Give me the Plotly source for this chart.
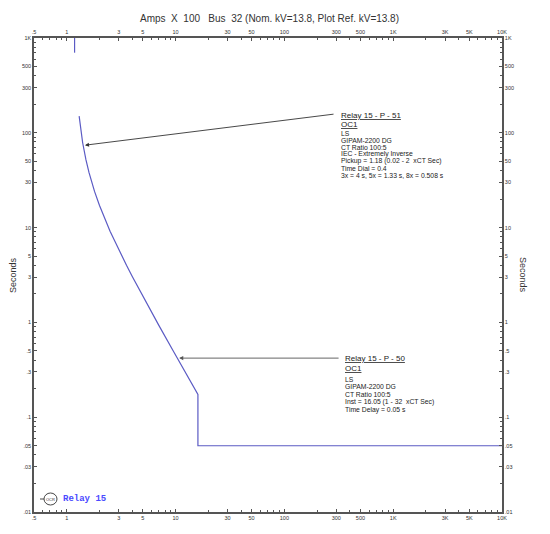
import math
import plotly.graph_objects as go

# Relay 15 curve (current in Amps x 100, time in seconds)
pickup_amps = [1.18, 1.18]
pickup_secs = [1000, 700]

curve_amps = [1.3, 1.35, 1.4, 1.5, 1.6, 1.8, 2.0, 2.5, 3.0, 3.54, 4.0, 5.0, 5.9,
              7.0, 9.44, 10.0, 12.0, 14.0, 16.05, 16.05, 10000]
curve_secs = [149.7, 103.6, 78.5, 52.0, 38.2, 24.1, 17.1, 9.17, 5.86, 4.0, 3.05,
              1.89, 1.333, 0.936, 0.508, 0.452, 0.312, 0.229, 0.174, 0.05, 0.05]

x_tickvals = [0.5, 1, 3, 5, 10, 30, 50, 100, 300, 500, 1000, 3000, 5000, 10000]
x_ticktext = ['.5', '1', '3', '5', '10', '30', '50', '100', '300', '500',
              '1K', '3K', '5K', '10K']
y_tickvals = [0.01, 0.03, 0.05, 0.1, 0.3, 0.5, 1, 3, 5, 10, 30, 50, 100, 300, 500, 1000]
y_ticktext = ['.01', '.03', '.05', '.1', '.3', '.5', '1', '3', '5', '10', '30',
              '50', '100', '300', '500', '1K']

label_51 = ['LS', 'GIPAM-2200 DG', 'CT Ratio 100:5', 'IEC - Extremely Inverse',
            'Pickup = 1.18 (0.02 - 2  xCT Sec)', 'Time Dial = 0.4',
            '3x = 4 s, 5x = 1.33 s, 8x = 0.508 s']
label_50 = ['LS', 'GIPAM-2200 DG', 'CT Ratio 100:5',
            'Inst = 16.05 (1 - 32  xCT Sec)', 'Time Delay = 0.05 s']

FONT = 'Liberation Sans, Arial, sans-serif'
CURVE = '#5b5bc4'

x_minor = [m * 10 ** e for e in range(-1, 4) for m in (2, 4, 6, 7, 8, 9)
           if 0.5 < m * 10 ** e < 10000]
y_minor = [m * 10 ** e for e in range(-2, 3) for m in (2, 4, 6, 7, 8, 9)]

fig = go.Figure()
fig.add_trace(go.Scatter(x=pickup_amps + [None] + curve_amps,
                         y=pickup_secs + [None] + curve_secs,
                         mode='lines', line=dict(color=CURVE, width=1.2),
                         hoverinfo='skip', showlegend=False))
# dummy trace so the top / right axes get drawn
fig.add_trace(go.Scatter(x=[1], y=[1], xaxis='x2', yaxis='y2', mode='markers',
                         marker=dict(opacity=0), hoverinfo='skip', showlegend=False))

xr = [math.log10(0.5), 4]
yr = [-2, 3]
common = dict(type='log', showgrid=False, zeroline=False, showline=True,
              linecolor='#555555', linewidth=1.5, ticks='inside', ticklen=3,
              tickcolor='#555555', tickfont=dict(size=5.5, color='#333333', family=FONT))
minor = dict(ticks='inside', ticklen=2.5, tickcolor='#555555')
# page body has an 8px margin, so the figure is shrunk by that amount
fig.update_layout(
    width=542, height=526,
    margin=dict(l=26, r=48, t=30, b=22),
    paper_bgcolor='white', plot_bgcolor='white',
    font=dict(family=FONT),
    xaxis=dict(range=xr, tickmode='array', tickvals=x_tickvals, ticktext=x_ticktext,
               minor=dict(tickvals=x_minor, **minor), **common),
    xaxis2=dict(range=xr, overlaying='x', side='top', tickmode='array',
                tickvals=x_tickvals, ticktext=x_ticktext,
                minor=dict(tickvals=x_minor, **minor), **common),
    yaxis=dict(range=yr, tickmode='array', tickvals=y_tickvals, ticktext=y_ticktext,
               minor=dict(tickvals=y_minor, **minor), **common),
    yaxis2=dict(range=yr, overlaying='y', side='right', tickmode='array',
                tickvals=y_tickvals, ticktext=y_ticktext,
                minor=dict(tickvals=y_minor, **minor), **common),
)

def px_x(p):
    return (p - 34) / 468.0

def px_y(p):
    return (512 - p) / 474.0

def text_at(t, px, py, size, anchor='center', **kw):
    return dict(text=t, x=px_x(px), y=px_y(py), xref='paper', yref='paper',
                xanchor=anchor, yanchor='middle', showarrow=False,
                font=dict(size=size, color=kw.pop('color', '#222222'),
                          family=kw.pop('family', FONT)), **kw)

ann = []
ann.append(text_at('Amps\u00a0\u00a0X\u00a0\u00a0100\u00a0\u00a0\u00a0Bus\u00a0\u00a032 (Nom. kV=13.8, Plot Ref. kV=13.8)',
                   269, 18, 10, color='#333333'))
ann.append(text_at('Seconds', 13, 275, 9, color='#333333', textangle=-90))
ann.append(text_at('Seconds', 523, 275, 9, color='#333333', textangle=90))

# arrows
ann.append(dict(x=math.log10(1.47), y=math.log10(74), ax=math.log10(292), ay=math.log10(158),
                xref='x', yref='y', axref='x', ayref='y', text='', showarrow=True,
                arrowhead=2, arrowsize=0.9, arrowwidth=0.9, arrowcolor='#333333'))
ann.append(dict(x=math.log10(10.8), y=math.log10(0.42), ax=math.log10(325), ay=math.log10(0.42),
                xref='x', yref='y', axref='x', ayref='y', text='', showarrow=True,
                arrowhead=2, arrowsize=0.9, arrowwidth=0.9, arrowcolor='#555555'))

# relay 51 label
ann.append(text_at('<u>Relay 15 - P - 51</u>', 339, 115, 8, anchor='left'))
ann.append(text_at('<u>OC1</u>', 339, 125, 8, anchor='left'))
for i, t in enumerate(label_51):
    ann.append(text_at(t, 339, 133.3 + i * 7, 6.8, anchor='left'))

# relay 50 label
ann.append(text_at('<u>Relay 15 - P - 50</u>', 343, 358.3, 8, anchor='left'))
ann.append(text_at('<u>OC1</u>', 343, 368.3, 8, anchor='left'))
for i, t in enumerate(label_50):
    ann.append(text_at(t, 343, 379 + i * 7.7, 6.8, anchor='left'))

# device legend
ann.append(text_at('OCR', 50.5, 499, 4, color='#333333'))
ann.append(text_at('<b>Relay 15</b>', 61, 499, 9, anchor='left', color='#4a4aff',
                   family='Liberation Mono, Courier New, monospace'))
fig.update_layout(annotations=ann)

fig.add_shape(type='circle', xref='paper', yref='paper',
              x0=px_x(44), x1=px_x(57), y0=px_y(505), y1=px_y(493),
              line=dict(color='#333333', width=0.9))
fig.add_shape(type='line', xref='paper', yref='paper',
              x0=px_x(40), x1=px_x(44), y0=px_y(499), y1=px_y(499),
              line=dict(color='#333333', width=0.9))

fig.write_html("out.html")
